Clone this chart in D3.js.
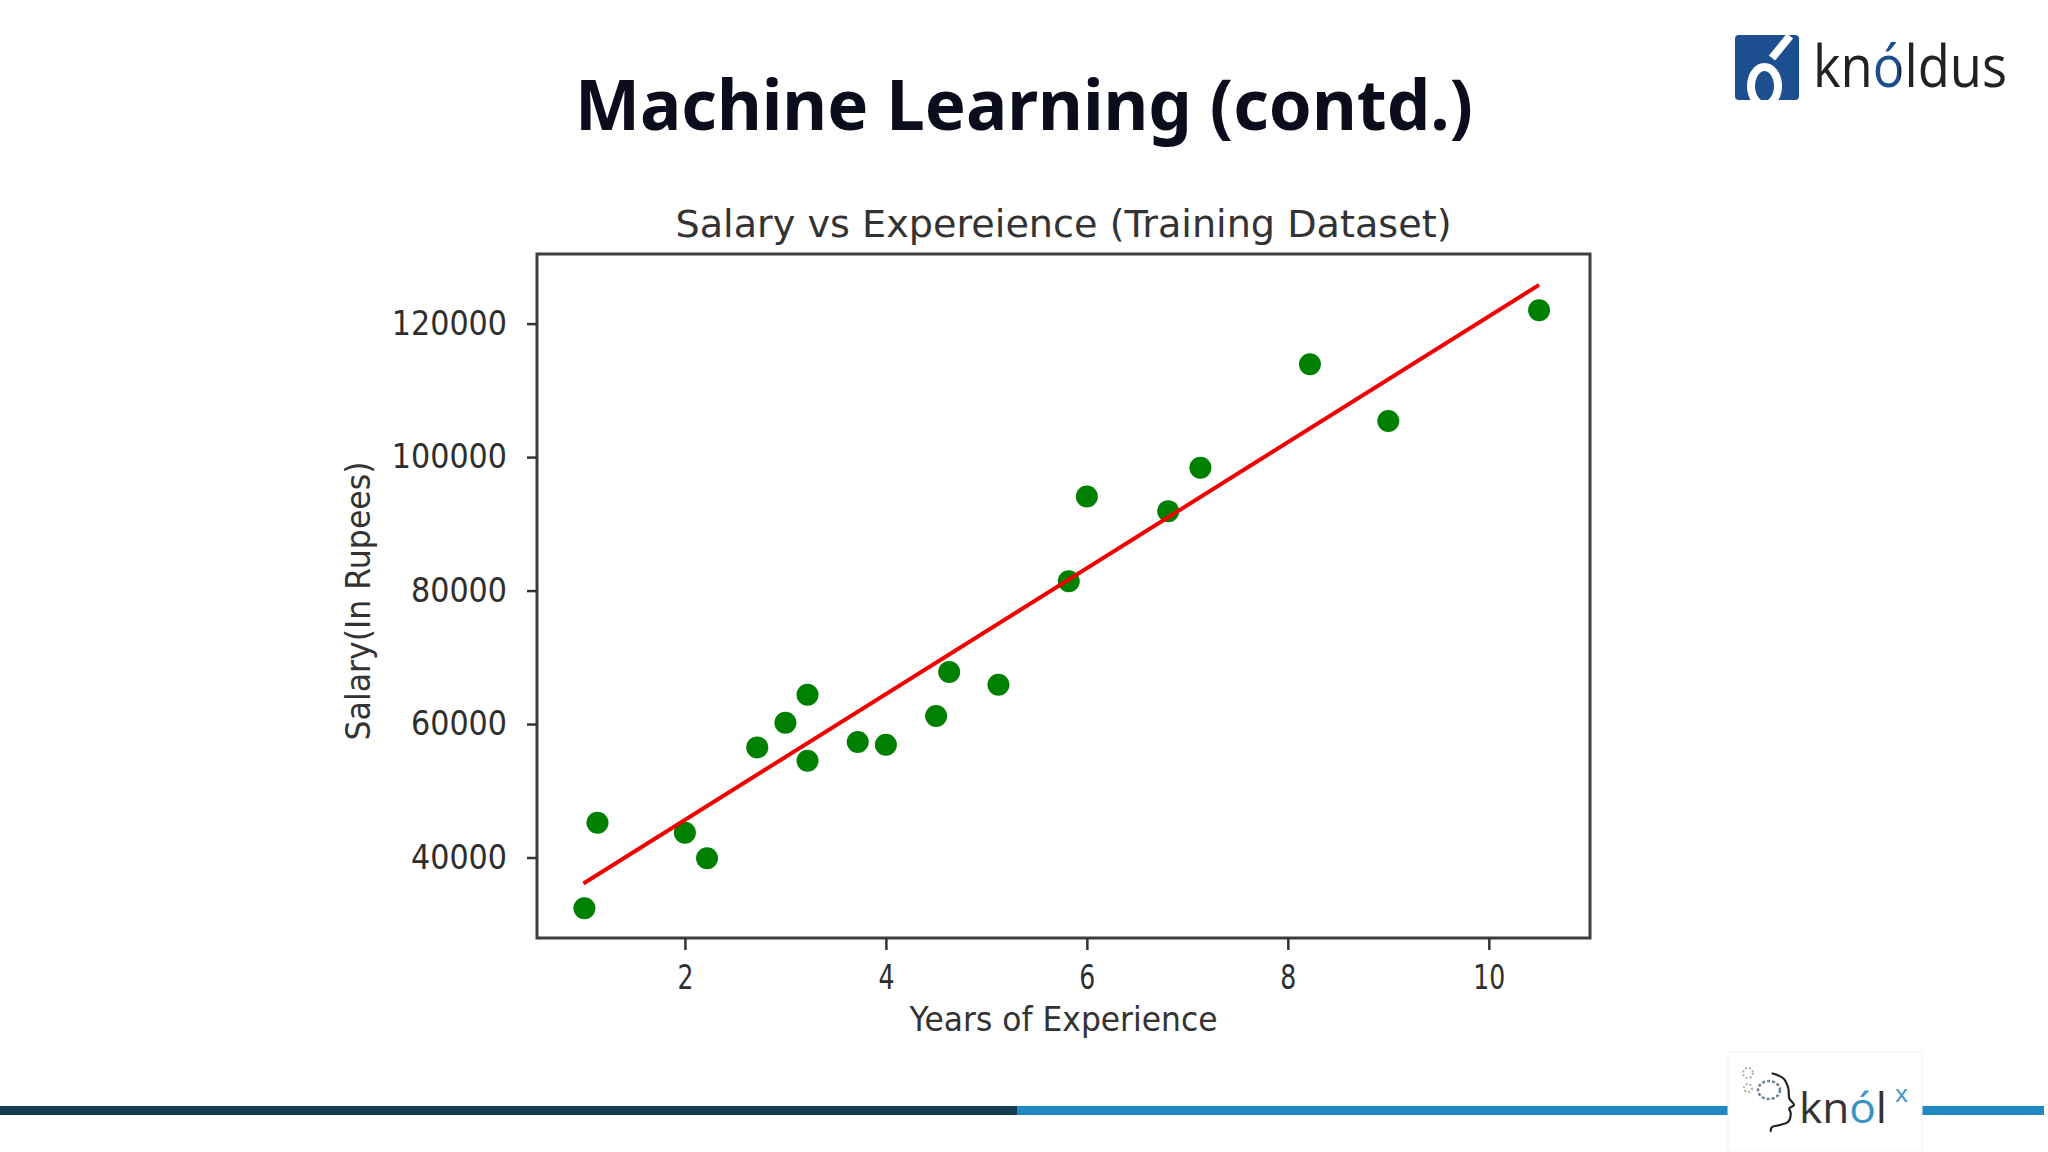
<!DOCTYPE html>
<meta charset="utf-8">
<style>
body { margin: 0; background: #fff; }
svg { display: block; }
.tick text { font-family: "DejaVu Sans", sans-serif; fill: #2e2e2e; }
</style>
<svg width="2048" height="1152"></svg>
<script src="https://cdn.jsdelivr.net/npm/d3@7"></script>
<script>
// training points
var years = [1.0, 1.13, 2.0, 2.22, 2.72, 3.0, 3.22, 3.22, 3.72, 4.0, 4.5, 4.63, 5.12, 5.82, 6.0, 6.81, 7.13, 8.22, 9.0, 10.5]
var salary = [32400, 45200, 43700, 39900, 56500, 60200, 64400, 54500, 57300, 56900, 61200, 67800, 65900, 81400, 94100, 91900, 98400, 113900, 105400, 122000]

// fitted line end points
var fitYears = [0.99, 10.5]
var fitSalary = [36100, 125800]

var xTicks = [2, 4, 6, 8, 10]
var yTicks = [40000, 60000, 80000, 100000, 120000]

var svg = d3.select("svg")
var defs = svg.append("defs")

var box = {left: 537, top: 254, right: 1590, bottom: 938}

var x = d3.scaleLinear().domain([0.528, 11.007]).range([box.left, box.right])
var y = d3.scaleLinear().domain([27940, 130430]).range([box.bottom, box.top])

svg.append("rect")
  .attr("width", 2048).attr("height", 1152).attr("fill", "#fff")

// slide title
svg.append("text")
  .attr("x", 575).attr("y", 130)
  .attr("textLength", 898).attr("lengthAdjust", "spacingAndGlyphs")
  .style("font-family", "'Noto Sans', sans-serif")
  .style("font-weight", 700).style("font-size", "70px")
  .attr("fill", "#0c0d1c")
  .text("Machine Learning (contd.)")

// two-tone fill: dark text with one blue letter between x0 and x1
function tone(id, x0, x1, dark, blue){
  var gr = defs.append("linearGradient").attr("id", id)
    .attr("gradientUnits", "userSpaceOnUse")
    .attr("x1", 0).attr("x2", 2048).attr("y1", 0).attr("y2", 0)
  var a = x0 / 2048, b = x1 / 2048
  gr.append("stop").attr("offset", a).attr("stop-color", dark)
  gr.append("stop").attr("offset", a).attr("stop-color", blue)
  gr.append("stop").attr("offset", b).attr("stop-color", blue)
  gr.append("stop").attr("offset", b).attr("stop-color", dark)
  return "url(#" + id + ")"
}

function word(g, txt, px, py, len, size, col){
  g.append("text")
    .attr("x", px).attr("y", py)
    .attr("textLength", len).attr("lengthAdjust", "spacingAndGlyphs")
    .style("font-family", "'Open Sans', sans-serif").style("font-size", size + "px")
    .attr("fill", col)
    .text(txt)
}

// knoldus logo
var logo = svg.append("g")
logo.append("clipPath").attr("id", "sq")
  .append("rect").attr("x", 1735).attr("y", 35).attr("width", 64).attr("height", 65).attr("rx", 4)
logo.append("rect")
  .attr("x", 1735).attr("y", 35).attr("width", 64).attr("height", 65).attr("rx", 4)
  .attr("fill", "#1d4e8f")
logo.append("ellipse")
  .attr("clip-path", "url(#sq)")
  .attr("cx", 1764.5).attr("cy", 86).attr("rx", 13.5).attr("ry", 19)
  .attr("fill", "none").attr("stroke", "#fff").attr("stroke-width", 8)
logo.append("line")
  .attr("clip-path", "url(#sq)")
  .attr("x1", 1772).attr("y1", 58).attr("x2", 1790).attr("y2", 36)
  .attr("stroke", "#fff").attr("stroke-width", 8)
word(logo, "knóldus", 1813, 87, 194, 58, tone("kd", 1870, 1899, "#222", "#1d4e8f"))

// chart frame
svg.append("rect")
  .attr("x", box.left).attr("y", box.top)
  .attr("width", box.right - box.left).attr("height", box.bottom - box.top)
  .attr("fill", "#fff").attr("stroke", "#3d3d3d").attr("stroke-width", 3)

var xAxis = svg.append("g")
  .attr("transform", "translate(0," + box.bottom + ")")
  .call(d3.axisBottom(x).tickValues(xTicks).tickSize(12).tickPadding(15).tickFormat(d3.format("d")))
var yAxis = svg.append("g")
  .attr("transform", "translate(" + box.left + ",0)")
  .call(d3.axisLeft(y).tickValues(yTicks).tickSize(10).tickPadding(20).tickFormat(d3.format("d")))

xAxis.select(".domain").remove()
yAxis.select(".domain").remove()
svg.selectAll(".tick line").attr("stroke", "#333").attr("stroke-width", 2.5)
xAxis.selectAll(".tick text")
  .style("font-size", "34px")
  .attr("textLength", function(d){ return String(d).length * 16 })
  .attr("lengthAdjust", "spacingAndGlyphs")
yAxis.selectAll(".tick text")
  .style("font-size", "34px")
  .attr("textLength", function(d){ return String(d).length * 19.2 })
  .attr("lengthAdjust", "spacingAndGlyphs")

function label(txt, px, py, len, size, rot){
  svg.append("text")
    .attr("transform", "translate(" + px + "," + py + ")" + (rot ? " rotate(" + rot + ")" : ""))
    .attr("text-anchor", "middle")
    .attr("textLength", len).attr("lengthAdjust", "spacingAndGlyphs")
    .style("font-family", "'DejaVu Sans', sans-serif").style("font-size", size + "px")
    .attr("fill", "#333")
    .text(txt)
}
label("Salary vs Expereience (Training Dataset)", (box.left + box.right) / 2, 237, 776, 37)
label("Years of Experience", (box.left + box.right) / 2, 1031, 308, 34)
label("Salary(In Rupees)", 370, 601, 279, 33, -90)

// points and fitted line
svg.append("g").selectAll("circle")
  .data(years)
  .enter().append("circle")
    .attr("cx", function(d){ return x(d) })
    .attr("cy", function(d, i){ return y(salary[i]) })
    .attr("r", 11)
    .attr("fill", "#008000")

svg.append("path")
  .datum(fitYears)
  .attr("d", d3.line().x(function(d){ return x(d) }).y(function(d, i){ return y(fitSalary[i]) }))
  .attr("stroke", "#f00000").attr("stroke-width", 4).attr("fill", "none")

// footer bars
svg.append("rect").attr("x", 0).attr("y", 1106).attr("width", 1017).attr("height", 9).attr("fill", "#143d4f")
svg.append("rect").attr("x", 1017).attr("y", 1106).attr("width", 711).attr("height", 9).attr("fill", "#2189c2")
svg.append("rect").attr("x", 1922).attr("y", 1106).attr("width", 122).attr("height", 9).attr("fill", "#2189c2")

// knolx logo
var kx = svg.append("g")
kx.append("rect").attr("x", 1728).attr("y", 1052).attr("width", 194).attr("height", 100)
  .attr("fill", "#fff").attr("stroke", "#f2f2f2")
kx.append("circle").attr("cx", 1748).attr("cy", 1073).attr("r", 5)
  .attr("fill", "none").attr("stroke", "#b0b0b0").attr("stroke-width", 2).attr("stroke-dasharray", "2 2")
kx.append("circle").attr("cx", 1748).attr("cy", 1088).attr("r", 4)
  .attr("fill", "none").attr("stroke", "#b0b0b0").attr("stroke-width", 2).attr("stroke-dasharray", "2 2")
kx.append("ellipse").attr("cx", 1769).attr("cy", 1090).attr("rx", 11).attr("ry", 9)
  .attr("fill", "none").attr("stroke", "#6d7f93").attr("stroke-width", 2.5).attr("stroke-dasharray", "3 2")
var head = [[1771.7,1073.3],[1783.3,1078.3],[1788.3,1088.3],[1789.3,1098.3],[1794,1105],[1789.3,1108.3],
            [1790.7,1113.3],[1788.3,1121.7],[1780,1125],[1771.7,1127.3],[1770.7,1131.7]]
kx.append("path")
  .attr("d", d3.line().curve(d3.curveCatmullRom)(head))
  .attr("fill", "none").attr("stroke", "#222").attr("stroke-width", 2.2)
word(kx, "knól", 1799, 1123, 88, 42, tone("kx", 1848, 1873, "#333", "#3b93c4"))
word(kx, "x", 1895, 1102, 13, 24, "#3b93c4")
</script>
